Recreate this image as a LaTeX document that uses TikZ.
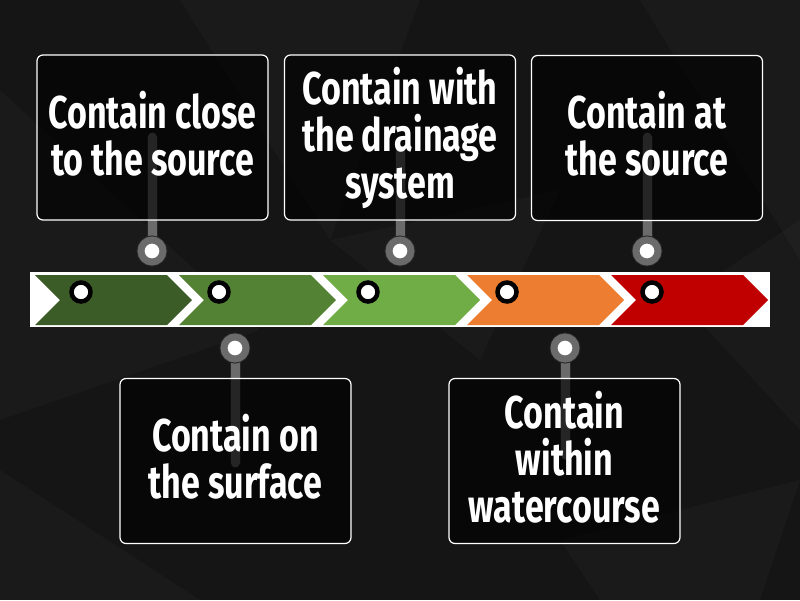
\documentclass[tikz,border=0pt]{standalone}
\usepackage{fontspec}
\newfontfamily\labelfont[FakeStretch=0.74]{Fira Sans}
\usetikzlibrary{positioning}

\definecolor{bgdark}{HTML}{151515}
\definecolor{pingrey}{HTML}{6B6B6B}
\definecolor{stageA}{HTML}{3B5B27}
\definecolor{stageB}{HTML}{548235}
\definecolor{stageC}{HTML}{70AD47}
\definecolor{stageD}{HTML}{ED7D31}
\definecolor{stageE}{HTML}{C00000}

\pgfdeclarelayer{back}
\pgfdeclarelayer{mid}
\pgfsetlayers{back,mid,main}

\tikzset{
  stagebox/.style={draw=white, line width=1.2pt, fill=black, fill opacity=0.65, text opacity=1,
    rounded corners=6pt, minimum width=231pt, minimum height=165pt, inner sep=0pt,
    text depth=9pt, align=center, text=white, font=\labelfont\bfseries\fontsize{46}{47}\selectfont},
  hook/.style={circle, fill=white, draw=pingrey, line width=7pt, minimum size=22pt, inner sep=0pt,
    preaction={draw=black!85, line width=9pt}},
  dot/.style={circle, fill=white, draw=black, line width=4.5pt, minimum size=19pt, inner sep=0pt},
  stem/.style={draw=pingrey, line width=9pt, line cap=round,
    preaction={draw=black!85, line width=11pt}},
  facet/.style={fill=white, fill opacity=0.022}
}

\begin{document}
\begin{tikzpicture}[x=1pt, y=-1pt]

  % Background
  \begin{pgfonlayer}{back}
    \fill[bgdark] (0,0) rectangle (800,600);
    \fill[facet] (0,90) -- (260,330) -- (0,420) -- cycle;
    \fill[facet] (180,0) -- (420,0) -- (330,240) -- cycle;
    \fill[facet] (330,240) -- (560,190) -- (480,360) -- cycle;
    \fill[facet] (640,0) -- (800,0) -- (800,260) -- cycle;
    \fill[facet] (680,300) -- (800,220) -- (800,430) -- cycle;
    \fill[facet] (0,470) -- (200,600) -- (0,600) -- cycle;
    \fill[facet] (560,540) -- (800,480) -- (760,600) -- (600,600) -- cycle;
    \useasboundingbox (0,0) rectangle (800,600);
  \end{pgfonlayer}

  % Timeline band and chevrons
  \begin{pgfonlayer}{back}
    \fill[white] (30,272) rectangle (770,327);
    \foreach \s/\c in {35/stageA, 179/stageB, 323/stageC, 467/stageD, 611/stageE}
      \fill[\c] (\s,275) -- ++(132,0) -- ++(25,25) -- ++(-25,25) -- ++(-132,0) -- ++(25,-25) -- cycle;
  \end{pgfonlayer}

  % Define nodes
    \node[stagebox] (close)   at (152.5,137.5) {Contain close\\to the source};
    \node[stagebox] (drain)   at (400,137.5)   {Contain with\\the drainage\\system};
    \node[stagebox] (source)  at (647,138)     {Contain at\\the source};
    \node[stagebox] (surface) at (235.5,461)   {Contain on\\the surface};
    \node[stagebox] (water)   at (564.5,461)   {Contain\\within\\watercourse};

    \node[hook] (close-hook)   at (152,251) {};
    \node[hook] (drain-hook)   at (400,251) {};
    \node[hook] (source-hook)  at (647,251) {};
    \node[hook] (surface-hook) at (235,348) {};
    \node[hook] (water-hook)   at (565,348) {};

    \coordinate (close-end)   at (152,137);
    \coordinate (drain-end)   at (400,151);
    \coordinate (source-end)  at (647,137);
    \coordinate (surface-end) at (235,463);
    \coordinate (water-end)   at (565,455);

    \node[dot] (d1) at (81,292)  {};
    \node[dot] (d2) at (219,292) {};
    \node[dot] (d3) at (368,292) {};
    \node[dot] (d4) at (507,292) {};
    \node[dot] (d5) at (652,292) {};

  % Connect the nodes
  \begin{pgfonlayer}{mid}
    \foreach \n in {close, drain, source, surface, water}
      \draw[stem] (\n-hook.center) -- (\n-end);
  \end{pgfonlayer}

\end{tikzpicture}
\end{document}
